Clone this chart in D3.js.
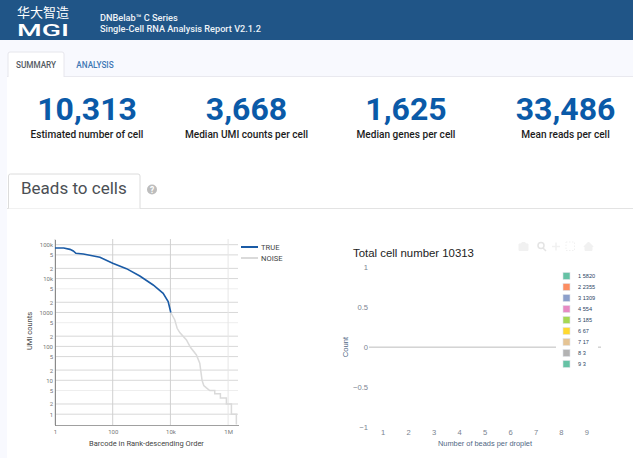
<!DOCTYPE html>
<html lang="en">
    <head>
        <meta charset="utf-8">
        <title>DNBelab C Series Report</title>
        <style>
            html, body { margin: 0; padding: 0; background: #fff; overflow: hidden; }
            svg { display: block; }
            text { font-family: Roboto, sans-serif; }
            .plotly text { font-family: "Liberation Sans", Arial, sans-serif; }
            .domain { shape-rendering: crispEdges; }
        </style>
    </head>
    <body>
        <div id="wrapper"></div>
        <script src="https://cdn.jsdelivr.net/npm/d3@7"></script>
        <script>
            // barcode rank curve
            const trueRanks = [1, 2, 3.3, 4.3, 5.3, 9.6, 16, 36, 100, 300, 870, 2530, 5600, 8350, 10313]
            const trueCounts = [80000, 80000, 72800, 65000, 55500, 53100, 48500, 42400, 28200, 19600, 11900, 6480, 3680, 2090, 1000]
            const noiseRanks = [10313, 14200, 17100, 21100, 36000, 49400, 79800, 104000, 125000, 143000, 177000, 231000, 344000, 344000, 540000, 540000, 871000, 871000, 1300000, 1300000, 1930000, 1930000]
            const noiseCounts = [1000, 603, 342, 255, 155, 94, 56, 32, 10, 7, 6, 5, 5, 4, 4, 3, 3, 2, 2, 1, 1, 0.5]
            const rankTicks = [1, 100, 10000, 1000000]
            const rankLabels = ["1", "100", "10k", "1M"]
            const umiTicks = [100000, 50000, 20000, 10000, 5000, 2000, 1000, 500, 200, 100, 50, 20, 10, 5, 2, 1]
            const umiLabels = ["100k", "5", "2", "10k", "5", "2", "1000", "5", "2", "100", "5", "2", "10", "5", "2", "1"]
            const fadedUmiTicks = [5000, 500, 5]

            // beads per droplet, the bars have no height in the original
            const beadCategories = [1, 2, 3, 4, 5, 6, 7, 8, 9]
            const beadCounts = [5820, 2355, 1309, 554, 185, 67, 17, 3, 3]
            const beadBarValues = [0, 0, 0, 0, 0, 0, 0, 0, 0]
            const beadColors = ["#66c2a5", "#fc8d62", "#8da0cb", "#e78ac3", "#a6d854", "#ffd92f", "#e5c494", "#b3b3b3", "#66c2a5"]
            const countTicks = [1, 0.5, 0, -0.5, -1]
            const countLabels = ["1", "0.5", "0", "\u22120.5", "\u22121"]

            const summaryValues = ["10,313", "3,668", "1,625", "33,486"]
            const summaryLabels = ["Estimated number of cell", "Median UMI counts per cell", "Median genes per cell", "Mean reads per cell"]
            const summaryCenters = [87, 246.5, 406, 565.5]

            const wrapper = d3.select("#wrapper")
                .append("svg")
                .attr("width", 633)
                .attr("height", 458)

            // page background
            wrapper.append("rect").attr("width", 633).attr("height", 458).attr("fill", "#f8f9fe")
            wrapper.append("rect").attr("x", 7).attr("y", 76).attr("width", 626).attr("height", 382).attr("fill", "#fff")
            wrapper.append("line").attr("x1", 7).attr("x2", 633).attr("y1", 76.5).attr("y2", 76.5).attr("stroke", "#e9e9ef")

            // header
            wrapper.append("rect").attr("width", 633).attr("height", 40).attr("fill", "#205587")
            wrapper.append("text")
                .attr("x", 17).attr("y", 17)
                .style("font-family", '"Noto Sans CJK SC"')
                .style("font-size", "13px")
                .attr("textLength", 52)
                .attr("fill", "#fff")
                .text("华大智造")
            wrapper.append("text")
                .attr("x", 17).attr("y", 36)
                .style("font-size", "16.5px")
                .style("font-weight", 500)
                .attr("textLength", 52)
                .attr("lengthAdjust", "spacingAndGlyphs")
                .attr("fill", "#fff")
                .text("MGI")
            wrapper.append("text")
                .attr("x", 100).attr("y", 20.5)
                .style("font-size", "9.2px").style("font-weight", 500)
                .attr("fill", "#eef3f8")
                .text("DNBelab\u2122 C Series")
            wrapper.append("text")
                .attr("x", 100).attr("y", 32)
                .style("font-size", "9.2px").style("font-weight", 500)
                .attr("fill", "#eef3f8")
                .text("Single-Cell RNA Analysis Report V2.1.2")

            // tabs
            wrapper.append("path")
                .attr("d", "M8,77V54a2,2 0 0 1 2,-2H62a2,2 0 0 1 2,2V77")
                .attr("fill", "#fff").attr("stroke", "#e6e6ec")
            wrapper.append("text")
                .attr("x", 36).attr("y", 67.5)
                .attr("text-anchor", "middle")
                .style("font-size", "8.2px").style("font-weight", 500)
                .attr("fill", "#555b63")
                .text("SUMMARY")
            wrapper.append("text")
                .attr("x", 95).attr("y", 67.5)
                .attr("text-anchor", "middle")
                .style("font-size", "8.2px").style("font-weight", 500)
                .attr("fill", "#3f78b5")
                .text("ANALYSIS")

            // summary numbers
            const summary = wrapper.append("g")
                .selectAll("g")
                .data(summaryValues)
                .join("g")
                .attr("transform", (d, i) => `translate(${summaryCenters[i]},0)`)
            summary.append("text")
                .attr("y", 120)
                .attr("text-anchor", "middle")
                .style("font-size", "32px").style("font-weight", 700)
                .attr("fill", "#0a5aa8")
                .text(d => d)
            summary.append("text")
                .attr("y", 137.5)
                .attr("text-anchor", "middle")
                .style("font-size", "10.1px").style("font-weight", 500)
                .attr("fill", "#1c1c1c")
                .text((d, i) => summaryLabels[i])

            // section heading
            wrapper.append("line").attr("x1", 7).attr("x2", 633).attr("y1", 208.5).attr("y2", 208.5).attr("stroke", "#e3e3e3")
            wrapper.append("path")
                .attr("d", "M8.5,208.5V176a2,2 0 0 1 2,-2H138a2,2 0 0 1 2,2V208.5")
                .attr("fill", "#fff").attr("stroke", "#dcdcdc")
            wrapper.append("text")
                .attr("x", 21).attr("y", 194)
                .style("font-size", "17px").style("font-weight", 400)
                .attr("fill", "#4b4f54")
                .text("Beads to cells")
            wrapper.append("circle").attr("cx", 152).attr("cy", 189.5).attr("r", 5).attr("fill", "#bdbdbd")
            wrapper.append("text")
                .attr("x", 152).attr("y", 192.5)
                .attr("text-anchor", "middle")
                .style("font-size", "8.5px").style("font-weight", 700)
                .attr("fill", "#fff")
                .text("?")

            // ---- barcode rank plot ----
            const xScale = d3.scaleLog().domain([1, 2200000]).range([55, 238])
            const yScale = d3.scaleLog().domain([0.48, 147000]).range([425, 239])

            const rankGroup = wrapper.append("g")

            rankGroup.append("g")
                .selectAll("line")
                .data(umiTicks)
                .join("line")
                .attr("x1", 55).attr("x2", 238)
                .attr("y1", d => yScale(d)).attr("y2", d => yScale(d))
                .attr("stroke", d => fadedUmiTicks.includes(d) ? "#eeeeee" : "#d8d8d8")
                .attr("stroke-width", 1)

            rankGroup.append("g")
                .selectAll("line")
                .data(rankTicks)
                .join("line")
                .attr("x1", d => xScale(d)).attr("x2", d => xScale(d))
                .attr("y1", 239).attr("y2", 425)
                .attr("stroke", d => d === 1000000 ? "#e6e6e6" : "#d0d0d0")
                .attr("stroke-width", 1)

            const rankAxis = d3.axisBottom(xScale)
                .tickValues(rankTicks)
                .tickFormat((d, i) => rankLabels[i])
                .tickSize(0)
                .tickPadding(5)
            const umiAxis = d3.axisLeft(yScale)
                .tickValues(umiTicks)
                .tickFormat((d, i) => umiLabels[i])
                .tickSize(0)
                .tickPadding(2)

            const rankAxisG = rankGroup.append("g").attr("transform", "translate(0,425)").call(rankAxis)
            const umiAxisG = rankGroup.append("g").attr("transform", "translate(55,0)").call(umiAxis)
            rankAxisG.select(".domain").attr("stroke", "#a0a0a0")
            umiAxisG.select(".domain").attr("stroke", "#8a8a8a")
            rankAxisG.selectAll("text").style("font-size", "6px").attr("fill", "#777")
            umiAxisG.selectAll("text").style("font-size", "6px").attr("fill", "#777")

            const rankLine = d3.line()
                .x(d => xScale(d[0]))
                .y(d => yScale(d[1]))

            rankGroup.append("path")
                .attr("d", rankLine(d3.zip(noiseRanks, noiseCounts)))
                .attr("fill", "none").attr("stroke", "#dadada").attr("stroke-width", 1.5)
            rankGroup.append("path")
                .attr("d", rankLine(d3.zip(trueRanks, trueCounts)))
                .attr("fill", "none").attr("stroke", "#1a5ba6").attr("stroke-width", 1.6)

            const rankLegend = [["TRUE", "#1a5ba6", 247], ["NOISE", "#dadada", 258]]
            rankLegend.forEach(([label, color, y]) => {
                rankGroup.append("line")
                    .attr("x1", 241).attr("x2", 258).attr("y1", y).attr("y2", y)
                    .attr("stroke", color).attr("stroke-width", 2)
                rankGroup.append("text")
                    .attr("x", 261).attr("y", y + 2.8)
                    .style("font-size", "7.6px")
                    .attr("fill", "#444")
                    .text(label)
            })

            rankGroup.append("text")
                .attr("transform", "translate(32,331) rotate(-90)")
                .attr("text-anchor", "middle")
                .style("font-size", "7.5px")
                .attr("fill", "#444")
                .text("UMI counts")
            rankGroup.append("text")
                .attr("x", 146.5).attr("y", 446)
                .attr("text-anchor", "middle")
                .style("font-size", "7.5px")
                .attr("fill", "#444")
                .text("Barcode in Rank-descending Order")

            // ---- beads per droplet plot ----
            const beadX = d3.scaleBand().domain(beadCategories).range([369, 601]).padding(0.1)
            const beadY = d3.scaleLinear().domain([-1, 1]).range([427, 267.3])

            const beadGroup = wrapper.append("g").attr("class", "plotly")

            beadGroup.append("text")
                .attr("x", 353).attr("y", 257)
                .style("font-size", "11.4px")
                .attr("fill", "#222")
                .text("Total cell number 10313")

            // modebar, nearly invisible in the original
            const modebar = beadGroup.append("g").attr("fill", "#f1f1f1").attr("stroke", "#f1f1f1")
            modebar.append("path").attr("d", "M519,244h2l1,-1.5h3l1,1.5h2v6.5h-9z")
            modebar.append("circle").attr("cx", 541).attr("cy", 245.5).attr("r", 3).attr("fill", "none").attr("stroke", "#e4e4e4").attr("stroke-width", 1.5)
            modebar.append("path").attr("d", "M543,248l3,3").attr("stroke", "#e4e4e4").attr("stroke-width", 1.5)
            modebar.append("path").attr("d", "M556,242.5v8M552,246.5h8").attr("fill", "none").attr("stroke-width", 1.5)
            modebar.append("rect").attr("x", 566).attr("y", 242).attr("width", 8.5).attr("height", 8.5)
                .attr("fill", "none").attr("stroke-dasharray", "1.5 1.5")
            modebar.append("path").attr("d", "M584,246.5l4.5,-4.5l4.5,4.5h-1v4h-7v-4z")

            const countAxis = d3.axisLeft(beadY)
                .tickValues(countTicks)
                .tickFormat((d, i) => countLabels[i])
                .tickSize(0)
                .tickPadding(1)
            const beadAxis = d3.axisBottom(beadX)
                .tickSize(0)
                .tickPadding(3)

            const countAxisG = beadGroup.append("g").attr("transform", "translate(369,0)").call(countAxis)
            const beadAxisG = beadGroup.append("g").attr("transform", "translate(0,427)").call(beadAxis)
            countAxisG.select(".domain").remove()
            beadAxisG.select(".domain").remove()
            countAxisG.selectAll("text").style("font-size", "7.6px").attr("fill", "#7a8390")
            beadAxisG.selectAll("text").style("font-size", "7.6px").attr("fill", "#7a8390")

            beadGroup.append("line")
                .attr("x1", 369).attr("x2", 601)
                .attr("y1", beadY(0)).attr("y2", beadY(0))
                .attr("stroke", "#a9a9a9").attr("stroke-width", 0.8)

            // bars are zero height, stroke makes them show on the zero line
            beadGroup.append("g")
                .selectAll("rect")
                .data(beadBarValues)
                .join("rect")
                .attr("x", (d, i) => beadX(beadCategories[i]))
                .attr("y", d => beadY(Math.max(d, 0)))
                .attr("width", beadX.bandwidth())
                .attr("height", d => Math.abs(beadY(d) - beadY(0)))
                .attr("fill", (d, i) => beadColors[i])
                .attr("stroke", "#b3b3b3")
                .attr("stroke-width", 0.3)

            beadGroup.append("rect")
                .attr("x", 556).attr("y", 268).attr("width", 42).attr("height", 104)
                .attr("fill", "#fff")

            const beadLegend = beadGroup.append("g")
                .selectAll("g")
                .data(beadCategories)
                .join("g")
                .attr("transform", (d, i) => `translate(563,${272.5 + i * 11})`)
            beadLegend.append("rect")
                .attr("width", 7).attr("height", 7)
                .attr("fill", (d, i) => beadColors[i])
                .attr("stroke", "#dfe3ea").attr("stroke-width", 0.6)
            beadLegend.append("text")
                .attr("x", 15).attr("y", 5.8)
                .style("font-size", "5.6px")
                .attr("fill", "#2a3f5f")
                .text((d, i) => `${d} ${beadCounts[i]}`)

            beadGroup.append("text")
                .attr("transform", "translate(348,347) rotate(-90)")
                .attr("text-anchor", "middle")
                .style("font-size", "7.6px")
                .attr("fill", "#506784")
                .text("Count")
            beadGroup.append("text")
                .attr("x", 485).attr("y", 446)
                .attr("text-anchor", "middle")
                .style("font-size", "7.4px")
                .attr("fill", "#506784")
                .text("Number of beads per droplet")
        </script>
    </body>
</html>
